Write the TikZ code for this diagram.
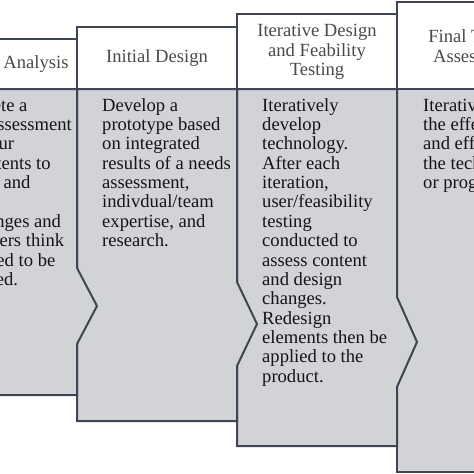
\documentclass[tikz,border=0pt]{standalone}
\usepackage{fontspec}
\setmainfont{Liberation Serif}
\definecolor{bodyfill}{HTML}{D1D3D7}
\definecolor{edgecol}{HTML}{3F4552}
\definecolor{headtext}{HTML}{4A4A4A}
\definecolor{bodytext}{HTML}{151515}
\tikzset{
  colshape/.style={draw=edgecol, line width=2pt, fill=bodyfill, line join=miter},
  headshape/.style={draw=edgecol, line width=2pt, fill=white},
  headtxt/.style={font=\fontsize{18.6}{19.35}\selectfont, text=headtext, align=center, inner sep=0pt, anchor=center},
  bodytxt/.style={font=\fontsize{18.6}{19.35}\selectfont, text=bodytext, align=left, inner sep=0pt, anchor=north west}
}
\newcommand{\firstln}{\rule{0pt}{15pt}}
\begin{document}
\begin{tikzpicture}[x=1pt,y=-1pt]
\useasboundingbox (0,0) rectangle (474,474);
\fill[white] (0,0) rectangle (474,474);
\clip (0,0) rectangle (474,474);
% column 4
\draw[colshape] (397,89) -- (557,89) -- (557,472) -- (397,472) -- cycle;
\draw[headshape] (397,2) rectangle (557,89);
\node[headtxt] (h4) at (477,46) {Final Testing\\Assessment};
\node[bodytxt] (b4) at (423,96) {\firstln Iteratively assess\\the effectiveness\\and efficiency of\\the technology\\or program.};
% column 3
\draw[colshape] (237,89) -- (397,89) -- (397,297) -- (417,342) -- (397,387) -- (397,446) -- (237,446) -- cycle;
\draw[headshape] (237,14) rectangle (397,89);
\node[headtxt] (h3) at (317,52) {Iterative Design\\and Feability\\Testing};
\node[bodytxt] (b3) at (262,96) {\firstln Iteratively\\develop\\technology.\\After each\\iteration,\\user/feasibility\\testing\\conducted to\\assess content\\and design\\changes.\\Redesign\\elements then be\\applied to the\\product.};
% column 2
\draw[colshape] (77,89) -- (237,89) -- (237,282) -- (257,324) -- (237,366) -- (237,421) -- (77,421) -- cycle;
\draw[headshape] (77,27) rectangle (237,89);
\node[headtxt] (h2) at (157,58) {Initial Design};
\node[bodytxt] (b2) at (102,96) {\firstln Develop a\\prototype based\\on integrated\\results of a needs\\assessment,\\indivdual/team\\expertise, and\\research.};
% column 1
\draw[colshape] (-83,89) -- (77,89) -- (77,268) -- (97,306) -- (77,344) -- (77,395) -- (-83,395) -- cycle;
\draw[headshape] (-83,39) rectangle (77,89);
\node[headtxt] (h1) at (-3,64) {Front-end Analysis};
\node[bodytxt] (b1) at (-58,96) {\firstln Complete a\\needs assessment\\with your\\the contents to\\barriers and\\needs,\\the changes and\\what users think\\they need to be\\improved.};
\end{tikzpicture}
\end{document}
